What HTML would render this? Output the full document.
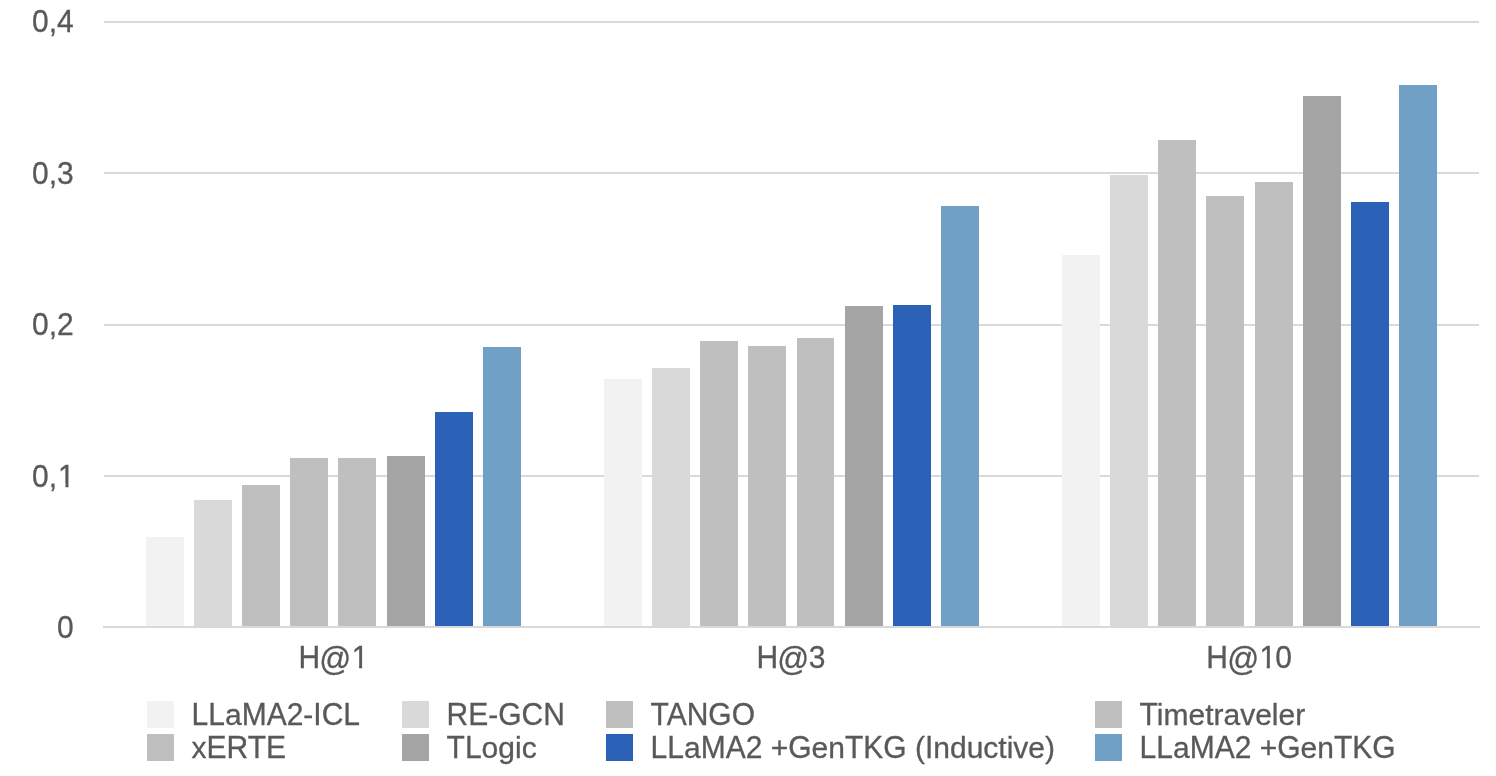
<!DOCTYPE html>
<html><head><meta charset="utf-8"><title>Chart</title>
<style>
html,body{margin:0;padding:0;background:#fff;}
body{width:1496px;height:776px;position:relative;overflow:hidden;font-family:"Liberation Sans",Arial,Helvetica,sans-serif;font-size:30px;color:#595959;-webkit-text-stroke:0.3px #595959;}
.g{position:absolute;left:104px;width:1375px;height:2px;background:#d9d9d9;}
.ax{position:absolute;left:103px;width:1377px;height:2px;background:#d9d9d9;top:626px;}
.b{position:absolute;}
.t{position:absolute;white-space:pre;line-height:30px;height:30px;}
.yl{position:absolute;right:0;white-space:pre;line-height:30px;height:30px;text-align:right;}
.c{display:inline-block;transform:scaleY(1.045);transform-origin:0 25.395px;}
.sw{position:absolute;width:27px;height:27px;}
.one{display:inline-block;position:relative;left:1.0px;clip-path:polygon(-5px -5px,25px -5px,25px 21.55px,10.40px 21.55px,10.40px 40px,7.34px 40px,7.34px 21.55px,-5px 21.55px);}
.at{display:inline-block;transform:scale(1.05,1.08);transform-origin:15.11px 3.66px;}
</style></head><body>
<div class="g" style="top:21px"></div>
<div class="g" style="top:172px"></div>
<div class="g" style="top:324px"></div>
<div class="g" style="top:475px"></div>
<div class="ax"></div>
<div class="b" style="left:146px;top:537px;width:38px;height:89px;background:#f2f2f2"></div>
<div class="b" style="left:194px;top:500px;width:38px;height:126px;background:#d9d9d9"></div>
<div class="b" style="left:242px;top:485px;width:38px;height:141px;background:#bfbfbf"></div>
<div class="b" style="left:290px;top:458px;width:38px;height:168px;background:#bfbfbf"></div>
<div class="b" style="left:338px;top:458px;width:38px;height:168px;background:#bfbfbf"></div>
<div class="b" style="left:387px;top:456px;width:38px;height:170px;background:#a5a5a5"></div>
<div class="b" style="left:435px;top:412px;width:38px;height:214px;background:#2b62b7"></div>
<div class="b" style="left:483px;top:347px;width:38px;height:279px;background:#70a0c6"></div>
<div class="b" style="left:604px;top:379px;width:38px;height:247px;background:#f2f2f2"></div>
<div class="b" style="left:652px;top:368px;width:38px;height:258px;background:#d9d9d9"></div>
<div class="b" style="left:700px;top:341px;width:38px;height:285px;background:#bfbfbf"></div>
<div class="b" style="left:748px;top:346px;width:38px;height:280px;background:#bfbfbf"></div>
<div class="b" style="left:797px;top:338px;width:37px;height:288px;background:#bfbfbf"></div>
<div class="b" style="left:845px;top:306px;width:38px;height:320px;background:#a5a5a5"></div>
<div class="b" style="left:893px;top:305px;width:38px;height:321px;background:#2b62b7"></div>
<div class="b" style="left:941px;top:206px;width:38px;height:420px;background:#70a0c6"></div>
<div class="b" style="left:1062px;top:255px;width:38px;height:371px;background:#f2f2f2"></div>
<div class="b" style="left:1110px;top:175px;width:38px;height:451px;background:#d9d9d9"></div>
<div class="b" style="left:1158px;top:140px;width:38px;height:486px;background:#bfbfbf"></div>
<div class="b" style="left:1206px;top:196px;width:38px;height:430px;background:#bfbfbf"></div>
<div class="b" style="left:1255px;top:182px;width:38px;height:444px;background:#bfbfbf"></div>
<div class="b" style="left:1303px;top:96px;width:38px;height:530px;background:#a5a5a5"></div>
<div class="b" style="left:1351px;top:202px;width:38px;height:424px;background:#2b62b7"></div>
<div class="b" style="left:1399px;top:85px;width:38px;height:541px;background:#70a0c6"></div>
<div style="position:absolute;left:0;top:0;width:73.8px;height:776px">
<div class="yl" style="top:6.905px"><span class="c">0</span>,<span class="c">4</span></div>
<div class="yl" style="top:158.905px"><span class="c">0</span>,<span class="c">3</span></div>
<div class="yl" style="top:309.905px"><span class="c">0</span>,<span class="c">2</span></div>
<div class="yl" style="top:461.905px"><span class="c">0</span>,<span class="c"><span class="one">1</span></span></div>
<div class="yl" style="top:612.805px"><span class="c">0</span></div>
</div>
<div class="t" style="left:298.60px;top:642.605px"><span class="c">H</span><span class="at">@</span><span class="c"><span class="one">1</span></span></div>
<div class="t" style="left:756.60px;top:642.605px"><span class="c">H</span><span class="at">@</span><span class="c">3</span></div>
<div class="t" style="left:1206.30px;top:642.605px"><span class="c">H</span><span class="at">@</span><span class="c"><span class="one">1</span>0</span></div>
<div class="sw" style="left:147px;top:701px;background:#f2f2f2"></div>
<div class="t" style="left:191.60px;top:699.605px"><span class="c">LL</span>a<span class="c">MA2</span>-<span class="c">ICL</span></div>
<div class="sw" style="left:402px;top:701px;background:#d9d9d9"></div>
<div class="t" style="left:446.60px;top:699.605px"><span class="c">RE</span>-<span class="c">GCN</span></div>
<div class="sw" style="left:606px;top:701px;background:#bfbfbf"></div>
<div class="t" style="left:650.60px;top:699.605px"><span class="c">TANGO</span></div>
<div class="sw" style="left:1095px;top:701px;background:#bfbfbf"></div>
<div class="t" style="left:1139.60px;top:699.605px"><span class="c">T</span><span style="margin-left:-1.11px">imetraveler</span></div>
<div class="sw" style="left:147px;top:734px;background:#bfbfbf"></div>
<div class="t" style="left:191.60px;top:732.605px">x<span class="c">ERTE</span></div>
<div class="sw" style="left:402px;top:734px;background:#a5a5a5"></div>
<div class="t" style="left:446.60px;top:732.605px"><span class="c">TL</span>ogic</div>
<div class="sw" style="left:606px;top:734px;background:#2b62b7"></div>
<div class="t" style="left:650.60px;top:732.605px"><span class="c">LL</span>a<span class="c">MA2</span> +<span class="c">G</span>en<span class="c">TKG</span> (<span class="c">I</span>nductive)</div>
<div class="sw" style="left:1095px;top:734px;background:#70a0c6"></div>
<div class="t" style="left:1139.60px;top:732.605px"><span class="c">LL</span>a<span class="c">MA2</span> +<span class="c">G</span>en<span class="c">TKG</span></div>
</body></html>
